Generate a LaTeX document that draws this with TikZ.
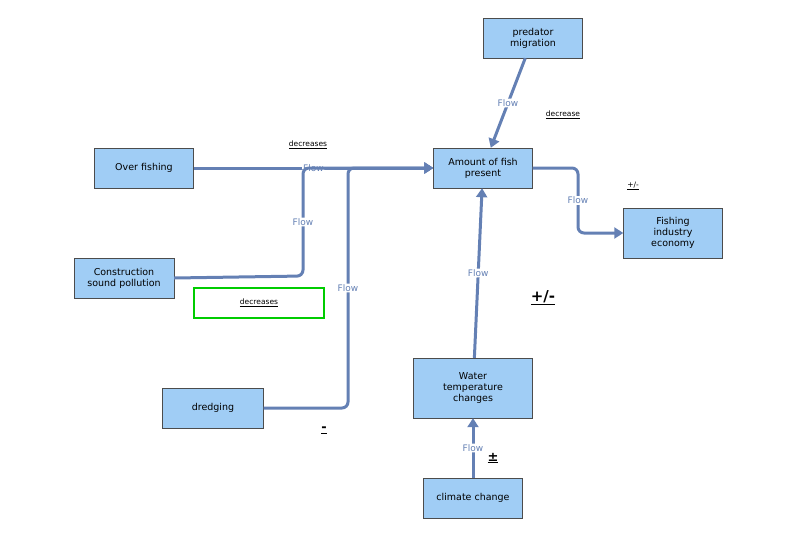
\documentclass[tikz,border=0pt]{standalone}
\usepackage{fontspec}
\setmainfont{DejaVu Sans}
\usetikzlibrary{arrows.meta}
\definecolor{boxfill}{RGB}{160,205,245}
\definecolor{flow}{RGB}{100,128,180}
\begin{document}
\begin{tikzpicture}[x=1pt,y=-1pt,
  box/.style={draw=black!70,fill=boxfill,minimum width=99pt,minimum height=40pt,align=center,font=\fontsize{9.5}{11}\selectfont,inner sep=1pt},
  con/.style={draw=flow,line width=3pt,rounded corners=6pt,-{Triangle[length=9pt,width=11pt]}},
  fl/.style={fill=white,inner sep=1pt,text=flow,font=\fontsize{9}{10}\selectfont},
  ul/.style={font=\fontsize{7.5}{9}\selectfont}]
\useasboundingbox (0,0) rectangle (800,533);
\node[box] (pred) at (533,38) {predator\\migration};
\node[box] (fish) at (483,168) {Amount of fish\\present};
\node[box] (over) at (144,168) {Over fishing};
\node[box,minimum width=100pt] (cons) at (124,278) {Construction\\sound pollution};
\node[draw=green!80!black,line width=1.2pt,minimum width=130pt,minimum height=30pt,ul] (gr) at (259,303) {\underline{decreases}};
\node[box,minimum width=101pt] (dred) at (213,408) {dredging};
\node[box,minimum width=119pt,minimum height=60pt] (wat) at (473,388) {Water\\temperature\\changes};
\node[box] (clim) at (473,498) {climate change};
\node[box,minimum height=50pt] (ind) at (673,233) {Fishing\\industry\\economy};
\coordinate (j1) at (303,168);
\coordinate (j2) at (348,168);
\draw[con] (pred) -- node[fl]{Flow} (fish);
\draw[con] (over) -- node[fl,pos=0.5]{Flow} (fish);
\draw[con] (cons.east) -- (303,276) -- node[fl]{Flow} (j1) -- (fish.west);
\draw[con] (dred.east) -- (348,408) -- node[fl]{Flow} (j2) -- (fish.west);
\draw[con] (wat) -- node[fl]{Flow} (fish);
\draw[con] (clim) -- node[fl]{Flow} (wat);
\draw[con] (fish.east) -- (578,168) -- node[fl]{Flow} (578,233) -- (ind.west);
\node[ul] (t1) at (308,145) {\underline{decreases}};
\node[ul] (t2) at (563,115) {\underline{decrease}};
\node[ul] (t3) at (633,186) {\underline{+/-}};
\node[font=\bfseries\fontsize{15}{16}\selectfont] (t4) at (543,298) {\underline{+/-}};
\node[font=\bfseries\fontsize{13}{14}\selectfont] (t5) at (324,430) {\underline{-}};
\node[font=\bfseries\fontsize{13}{14}\selectfont] (t6) at (493,458) {\underline{±}};
\end{tikzpicture}
\end{document}
